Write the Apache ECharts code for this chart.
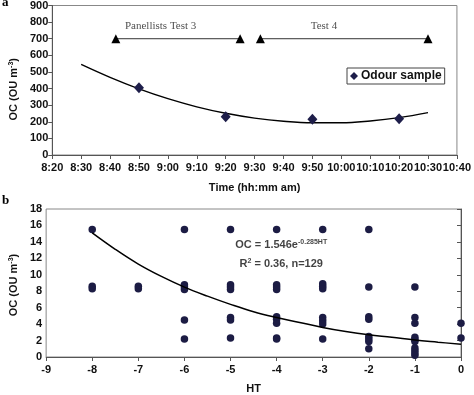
<!DOCTYPE html>
<html>
<head>
<meta charset="utf-8">
<script src="https://cdn.jsdelivr.net/npm/echarts@6/dist/echarts.min.js"></script>
<style>html,body{margin:0;padding:0;background:#fff;}#c{width:474px;height:395px;}</style>
</head>
<body>
<div id="c"></div>
<script>
// ---- Panel a data ----
const sampleTimes = ['8:50', '9:20', '9:50', '10:20'];
const sampleValues = [405, 230, 215, 218];
const trendTimes = ['8:30','8:40','8:50','9:00','9:10','9:20','9:30','9:40','9:50','10:00','10:10','10:20','10:30'];
const trendValues = [545, 467, 398, 339, 290, 251, 222, 203, 194, 194, 205, 225, 255];
const test3Times = ['8:42', '9:25'];
const test4Times = ['9:32', '10:30'];
const testLevel = 700;
const test3Label = 'Panellists Test 3';
const test4Label = 'Test 4';

// ---- Panel b data ----
const htValues = [
  -8,-8,-8,
  -7,-7,
  -6,-6,-6,-6,-6,-6,
  -5,-5,-5,-5,-5,-5,-5,
  -4,-4,-4,-4,-4,-4,-4,-4,-4,
  -3,-3,-3,-3,-3,-3,-3,-3,
  -2,-2,-2,-2,-2,-2,-2,-2,
  -1,-1,-1,-1,-1,-1,-1,-1,-1,-1,
  0,0
];
const ocValues = [
  15.5, 8.6, 8.3,
  8.6, 8.3,
  15.5, 8.8, 8.5, 8.2, 4.5, 2.2,
  15.5, 8.8, 8.5, 8.2, 4.8, 4.5, 2.3,
  15.5, 8.8, 8.5, 8.2, 4.9, 4.6, 4.1, 2.3, 2.2,
  15.5, 8.9, 8.6, 8.3, 4.8, 4.4, 4.0, 2.2,
  15.5, 8.5, 4.9, 4.6, 2.5, 2.2, 1.9, 1.0,
  8.5, 4.8, 4.1, 2.4, 2.1, 1.9, 1.1, 0.8, 0.5, 0.2,
  4.1, 2.3
];
const fitHT = [-8,-7.5,-7,-6.5,-6,-5.5,-5,-4.5,-4,-3.5,-3,-2.5,-2,-1.5,-1,-0.5,0];
const fitOC = [15.1,13.1,11.3,9.8,8.5,7.4,6.4,5.5,4.8,4.2,3.6,3.1,2.7,2.4,2.06,1.8,1.55];

function toMin(s){ const p = s.split(':'); return (+p[0])*60 + (+p[1]); }
function fmtMin(v){ const h = Math.floor(v/60), m = v%60; return h + ':' + (m<10?'0':'') + m; }
const zip = (xs, ys) => xs.map((x,i)=>[x, ys[i]]);

const axisCol = '#555';
const font = 'Liberation Sans, Arial, sans-serif';
const tickLbl = {fontFamily: font, fontWeight: 'bold', fontSize: 11, color: '#111'};
const nameRich = {
  a: {fontFamily: font, fontWeight: 'bold', fontSize: 11, color: '#111'},
  s: {fontFamily: font, fontWeight: 'bold', fontSize: 7, color: '#111', verticalAlign: 'top', lineHeight: 11}
};

const chart = echarts.init(document.getElementById('c'), null, {renderer: 'canvas'});
chart.setOption({
  animation: false,
  backgroundColor: '#fff',
  grid: [
    {left: 42, right: 13, top: 5, height: 150, show: true, borderColor: '#888', borderWidth: 1, backgroundColor: 'transparent'},
    {left: 45, right: 13, top: 209, height: 149, show: true, borderColor: '#888', borderWidth: 1, backgroundColor: 'transparent'}
  ],
  legend: {
    data: [{name: 'Odour sample', icon: 'diamond'}],
    left: 347, top: 68, padding: [2, 3, 2, 3],
    borderColor: '#444', borderWidth: 1, backgroundColor: '#fff',
    itemWidth: 8, itemHeight: 8, itemGap: 2,
    textStyle: {fontFamily: font, fontWeight: 'bold', fontSize: 12, color: '#111', padding: [0,0,0,-2]}
  },
  xAxis: [
    {type: 'value', gridIndex: 0, min: 500, max: 640, interval: 10,
     name: 'Time (hh:mm am)', nameLocation: 'middle', nameGap: 27,
     nameTextStyle: {fontFamily: font, fontWeight: 'bold', fontSize: 11, color: '#111'},
     axisLine: {show: true, onZero: false, lineStyle: {color: axisCol}},
     axisTick: {show: true, length: 4, lineStyle: {color: axisCol}},
     axisLabel: Object.assign({margin: 7, formatter: fmtMin}, tickLbl),
     splitLine: {show: false}},
    {type: 'value', gridIndex: 1, min: -9, max: 0, interval: 1,
     name: 'HT', nameLocation: 'middle', nameGap: 26,
     nameTextStyle: {fontFamily: font, fontWeight: 'bold', fontSize: 11, color: '#111'},
     axisLine: {show: true, onZero: false, lineStyle: {color: axisCol}},
     axisTick: {show: true, length: 4, lineStyle: {color: axisCol}},
     axisLabel: Object.assign({margin: 7}, tickLbl),
     splitLine: {show: false}}
  ],
  yAxis: [
    {type: 'value', gridIndex: 0, min: 0, max: 900, interval: 100,
     name: '{a|OC (OU m}{s|-3}{a|)}', nameLocation: 'middle', nameGap: 26, nameRotate: 90,
     nameTextStyle: {rich: nameRich, padding: [0, 18, 0, 0]},
     axisLine: {show: true, lineStyle: {color: axisCol}},
     axisTick: {show: true, length: 4, lineStyle: {color: axisCol}},
     axisLabel: Object.assign({margin: 4}, tickLbl),
     splitLine: {show: false}},
    {type: 'value', gridIndex: 1, min: 0, max: 18, interval: 2,
     name: '{a|OC (OU m}{s|-3}{a|)}', nameLocation: 'middle', nameGap: 27, nameRotate: 90,
     nameTextStyle: {rich: nameRich, padding: [0, 4, 0, 0]},
     axisLine: {show: true, lineStyle: {color: axisCol}},
     axisTick: {show: true, length: 4, lineStyle: {color: axisCol}},
     axisLabel: Object.assign({margin: 4}, tickLbl),
     splitLine: {show: false}}
  ],
  series: [
    {type: 'line', xAxisIndex: 0, yAxisIndex: 0, data: zip(trendTimes.map(toMin), trendValues),
     smooth: 0.4, showSymbol: false, symbol: 'none', lineStyle: {color: '#000', width: 1.4}, silent: true, z: 2},
    {name: 'Odour sample', type: 'scatter', xAxisIndex: 0, yAxisIndex: 0,
     data: zip(sampleTimes.map(toMin), sampleValues),
     symbol: 'diamond', symbolSize: [10, 11], itemStyle: {color: '#1e1e4a', opacity: 1}, z: 3},
    {type: 'line', xAxisIndex: 0, yAxisIndex: 0, data: test3Times.map(t => [toMin(t), testLevel]),
     symbol: 'triangle', symbolSize: 9, showSymbol: true, itemStyle: {color: '#000'},
     lineStyle: {color: '#333', width: 1}, z: 3},
    {type: 'line', xAxisIndex: 0, yAxisIndex: 0, data: test4Times.map(t => [toMin(t), testLevel]),
     symbol: 'triangle', symbolSize: 9, showSymbol: true, itemStyle: {color: '#000'},
     lineStyle: {color: '#333', width: 1}, z: 3},
    {type: 'scatter', xAxisIndex: 0, yAxisIndex: 0, symbolSize: 0, silent: true,
     data: [
       {value: [537.5, 775], label: {formatter: test3Label}},
       {value: [594, 775], label: {formatter: test4Label}}
     ],
     label: {show: true, position: 'inside', fontFamily: 'Liberation Serif, Times New Roman, serif', fontSize: 11, color: '#222'}},
    {type: 'scatter', xAxisIndex: 1, yAxisIndex: 1, data: zip(htValues, ocValues),
     symbol: 'circle', symbolSize: 7.5, itemStyle: {color: '#1c1c44', opacity: 1}, z: 3},
    {type: 'line', xAxisIndex: 1, yAxisIndex: 1, data: zip(fitHT, fitOC),
     smooth: 0.4, showSymbol: false, symbol: 'none', lineStyle: {color: '#000', width: 1.5}, silent: true, z: 4},
    {type: 'scatter', xAxisIndex: 1, yAxisIndex: 1, symbolSize: 0, silent: true,
     data: [
       {value: [-3.9, 13.6], label: {formatter: '{a|OC = 1.546e}{s|-0.285HT}'}},
       {value: [-3.9, 11.3], label: {formatter: '{a|R}{s|2}{a| = 0.36, n=129}'}}
     ],
     label: {show: true, position: 'inside', rich: {
       a: {fontFamily: font, fontWeight: 'bold', fontSize: 11, color: '#111', lineHeight: 13},
       s: {fontFamily: font, fontWeight: 'bold', fontSize: 7, color: '#111', verticalAlign: 'top', lineHeight: 13}
     }}}
  ],
  graphic: [
    {type: 'text', left: 2, top: -4, style: {text: 'a', fontFamily: 'Liberation Serif, serif', fontWeight: 'bold', fontSize: 13, fill: '#000'}},
    {type: 'text', left: 2, top: 194, style: {text: 'b', fontFamily: 'Liberation Serif, serif', fontWeight: 'bold', fontSize: 13, fill: '#000'}}
  ]
});
</script>
</body>
</html>
